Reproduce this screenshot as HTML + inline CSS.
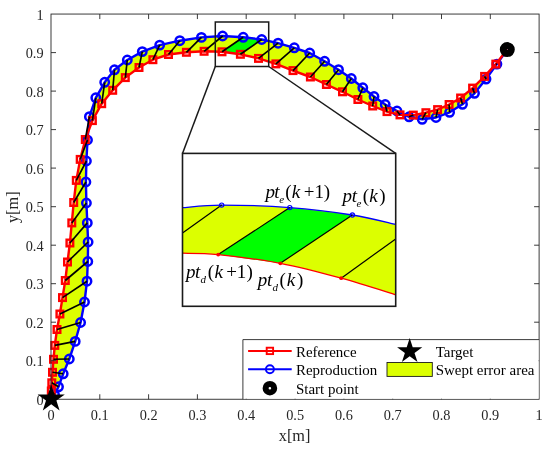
<!DOCTYPE html>
<html><head><meta charset="utf-8"><title>Swept error area</title>
<style>html,body{margin:0;padding:0;background:#fff}svg{display:block}text{font-family:"Liberation Serif",serif}</style></head><body>
<svg width="550" height="453" viewBox="0 0 550 453">
<rect width="550" height="453" fill="#fff"/>
<polygon points="51.0,399.3 51.3,391.0 51.8,382.8 52.5,372.3 53.5,359.3 54.8,345.4 57.0,329.5 59.9,314.0 62.5,297.6 65.3,280.5 67.5,262.0 69.9,243.0 71.8,222.9 73.7,202.5 76.3,180.4 80.2,159.4 85.3,139.5 92.4,120.6 101.7,103.7 112.7,90.3 125.3,77.6 139.0,67.5 152.9,59.7 168.5,54.5 186.4,52.3 204.1,51.3 222.0,51.8 240.4,54.3 258.5,58.4 275.9,63.9 293.0,70.6 310.4,77.0 326.4,84.5 342.5,91.8 357.9,99.5 372.7,106.0 387.0,111.6 400.0,114.9 413.3,115.1 425.9,112.7 437.6,109.6 449.1,104.5 460.6,98.0 472.6,88.1 484.6,76.4 495.8,64.1 507.3,49.6 507.3,49.6 496.9,64.1 486.0,79.1 474.5,93.3 462.5,104.3 449.6,112.3 436.0,117.5 422.2,119.3 409.1,116.8 397.0,111.0 385.2,104.5 374.0,96.5 362.8,87.8 351.3,78.5 338.5,69.7 324.6,61.3 309.7,53.0 294.3,47.8 278.1,43.2 261.7,39.5 243.2,37.3 222.6,36.0 201.4,37.4 179.8,40.7 159.7,45.1 142.3,51.6 127.3,60.0 114.5,69.8 104.7,82.3 95.8,97.8 89.4,116.7 87.5,140.0 86.4,161.0 85.9,182.0 86.4,203.0 87.3,222.9 88.1,242.0 87.8,261.5 87.0,281.2 84.5,302.0 80.6,322.5 75.2,341.4 69.3,359.0 63.2,373.8 58.5,386.8 54.5,394.5 51.0,399.3" fill="#dcff00"/>
<polygon points="222.0,51.8 240.4,54.3 261.7,39.5 243.2,37.3" fill="#00ff00"/>
<polyline points="51.0,399.3 54.5,394.5 58.5,386.8 63.2,373.8 69.3,359.0 75.2,341.4 80.6,322.5 84.5,302.0 87.0,281.2 87.8,261.5 88.1,242.0 87.3,222.9 86.4,203.0 85.9,182.0 86.4,161.0 87.5,140.0 89.4,116.7 95.8,97.8 104.7,82.3 114.5,69.8 127.3,60.0 142.3,51.6 159.7,45.1 179.8,40.7 201.4,37.4 222.6,36.0 243.2,37.3 261.7,39.5 278.1,43.2 294.3,47.8 309.7,53.0 324.6,61.3 338.5,69.7 351.3,78.5 362.8,87.8 374.0,96.5 385.2,104.5 397.0,111.0 409.1,116.8 422.2,119.3 436.0,117.5 449.6,112.3 462.5,104.3 474.5,93.3 486.0,79.1 496.9,64.1 507.3,49.6" fill="none" stroke="#0000ff" stroke-width="2.4" stroke-linejoin="round"/>
<g fill="none" stroke="#0000ff" stroke-width="2.5">
<circle cx="54.5" cy="394.5" r="4.2"/>
<circle cx="58.5" cy="386.8" r="4.2"/>
<circle cx="63.2" cy="373.8" r="4.2"/>
<circle cx="69.3" cy="359.0" r="4.2"/>
<circle cx="75.2" cy="341.4" r="4.2"/>
<circle cx="80.6" cy="322.5" r="4.2"/>
<circle cx="84.5" cy="302.0" r="4.2"/>
<circle cx="87.0" cy="281.2" r="4.2"/>
<circle cx="87.8" cy="261.5" r="4.2"/>
<circle cx="88.1" cy="242.0" r="4.2"/>
<circle cx="87.3" cy="222.9" r="4.2"/>
<circle cx="86.4" cy="203.0" r="4.2"/>
<circle cx="85.9" cy="182.0" r="4.2"/>
<circle cx="86.4" cy="161.0" r="4.2"/>
<circle cx="87.5" cy="140.0" r="4.2"/>
<circle cx="89.4" cy="116.7" r="4.2"/>
<circle cx="95.8" cy="97.8" r="4.2"/>
<circle cx="104.7" cy="82.3" r="4.2"/>
<circle cx="114.5" cy="69.8" r="4.2"/>
<circle cx="127.3" cy="60.0" r="4.2"/>
<circle cx="142.3" cy="51.6" r="4.2"/>
<circle cx="159.7" cy="45.1" r="4.2"/>
<circle cx="179.8" cy="40.7" r="4.2"/>
<circle cx="201.4" cy="37.4" r="4.2"/>
<circle cx="222.6" cy="36.0" r="4.2"/>
<circle cx="243.2" cy="37.3" r="4.2"/>
<circle cx="261.7" cy="39.5" r="4.2"/>
<circle cx="278.1" cy="43.2" r="4.2"/>
<circle cx="294.3" cy="47.8" r="4.2"/>
<circle cx="309.7" cy="53.0" r="4.2"/>
<circle cx="324.6" cy="61.3" r="4.2"/>
<circle cx="338.5" cy="69.7" r="4.2"/>
<circle cx="351.3" cy="78.5" r="4.2"/>
<circle cx="362.8" cy="87.8" r="4.2"/>
<circle cx="374.0" cy="96.5" r="4.2"/>
<circle cx="385.2" cy="104.5" r="4.2"/>
<circle cx="397.0" cy="111.0" r="4.2"/>
<circle cx="409.1" cy="116.8" r="4.2"/>
<circle cx="422.2" cy="119.3" r="4.2"/>
<circle cx="436.0" cy="117.5" r="4.2"/>
<circle cx="449.6" cy="112.3" r="4.2"/>
<circle cx="462.5" cy="104.3" r="4.2"/>
<circle cx="474.5" cy="93.3" r="4.2"/>
<circle cx="486.0" cy="79.1" r="4.2"/>
<circle cx="496.9" cy="64.1" r="4.2"/>
</g>
<polyline points="51.0,399.3 51.3,391.0 51.8,382.8 52.5,372.3 53.5,359.3 54.8,345.4 57.0,329.5 59.9,314.0 62.5,297.6 65.3,280.5 67.5,262.0 69.9,243.0 71.8,222.9 73.7,202.5 76.3,180.4 80.2,159.4 85.3,139.5 92.4,120.6 101.7,103.7 112.7,90.3 125.3,77.6 139.0,67.5 152.9,59.7 168.5,54.5 186.4,52.3 204.1,51.3 222.0,51.8 240.4,54.3 258.5,58.4 275.9,63.9 293.0,70.6 310.4,77.0 326.4,84.5 342.5,91.8 357.9,99.5 372.7,106.0 387.0,111.6 400.0,114.9 413.3,115.1 425.9,112.7 437.6,109.6 449.1,104.5 460.6,98.0 472.6,88.1 484.6,76.4 495.8,64.1 507.3,49.6" fill="none" stroke="#ff0000" stroke-width="2.4" stroke-linejoin="round"/>
<g fill="none" stroke="#ff0000" stroke-width="2.4">
<rect x="48.00" y="387.70" width="6.6" height="6.6"/>
<rect x="48.50" y="379.50" width="6.6" height="6.6"/>
<rect x="49.20" y="369.00" width="6.6" height="6.6"/>
<rect x="50.20" y="356.00" width="6.6" height="6.6"/>
<rect x="51.50" y="342.10" width="6.6" height="6.6"/>
<rect x="53.70" y="326.20" width="6.6" height="6.6"/>
<rect x="56.60" y="310.70" width="6.6" height="6.6"/>
<rect x="59.20" y="294.30" width="6.6" height="6.6"/>
<rect x="62.00" y="277.20" width="6.6" height="6.6"/>
<rect x="64.20" y="258.70" width="6.6" height="6.6"/>
<rect x="66.60" y="239.70" width="6.6" height="6.6"/>
<rect x="68.50" y="219.60" width="6.6" height="6.6"/>
<rect x="70.40" y="199.20" width="6.6" height="6.6"/>
<rect x="73.00" y="177.10" width="6.6" height="6.6"/>
<rect x="76.90" y="156.10" width="6.6" height="6.6"/>
<rect x="82.00" y="136.20" width="6.6" height="6.6"/>
<rect x="89.10" y="117.30" width="6.6" height="6.6"/>
<rect x="98.40" y="100.40" width="6.6" height="6.6"/>
<rect x="109.40" y="87.00" width="6.6" height="6.6"/>
<rect x="122.00" y="74.30" width="6.6" height="6.6"/>
<rect x="135.70" y="64.20" width="6.6" height="6.6"/>
<rect x="149.60" y="56.40" width="6.6" height="6.6"/>
<rect x="165.20" y="51.20" width="6.6" height="6.6"/>
<rect x="183.10" y="49.00" width="6.6" height="6.6"/>
<rect x="200.80" y="48.00" width="6.6" height="6.6"/>
<rect x="218.70" y="48.50" width="6.6" height="6.6"/>
<rect x="237.10" y="51.00" width="6.6" height="6.6"/>
<rect x="255.20" y="55.10" width="6.6" height="6.6"/>
<rect x="272.60" y="60.60" width="6.6" height="6.6"/>
<rect x="289.70" y="67.30" width="6.6" height="6.6"/>
<rect x="307.10" y="73.70" width="6.6" height="6.6"/>
<rect x="323.10" y="81.20" width="6.6" height="6.6"/>
<rect x="339.20" y="88.50" width="6.6" height="6.6"/>
<rect x="354.60" y="96.20" width="6.6" height="6.6"/>
<rect x="369.40" y="102.70" width="6.6" height="6.6"/>
<rect x="383.70" y="108.30" width="6.6" height="6.6"/>
<rect x="396.70" y="111.60" width="6.6" height="6.6"/>
<rect x="410.00" y="111.80" width="6.6" height="6.6"/>
<rect x="422.60" y="109.40" width="6.6" height="6.6"/>
<rect x="434.30" y="106.30" width="6.6" height="6.6"/>
<rect x="445.80" y="101.20" width="6.6" height="6.6"/>
<rect x="457.30" y="94.70" width="6.6" height="6.6"/>
<rect x="469.30" y="84.80" width="6.6" height="6.6"/>
<rect x="481.30" y="73.10" width="6.6" height="6.6"/>
<rect x="492.50" y="60.80" width="6.6" height="6.6"/>
</g>
<g stroke="#000" stroke-width="1.65">
<line x1="51.3" y1="391.0" x2="54.5" y2="394.5"/>
<line x1="51.8" y1="382.8" x2="58.5" y2="386.8"/>
<line x1="52.5" y1="372.3" x2="63.2" y2="373.8"/>
<line x1="53.5" y1="359.3" x2="69.3" y2="359.0"/>
<line x1="54.8" y1="345.4" x2="75.2" y2="341.4"/>
<line x1="57.0" y1="329.5" x2="80.6" y2="322.5"/>
<line x1="59.9" y1="314.0" x2="84.5" y2="302.0"/>
<line x1="62.5" y1="297.6" x2="87.0" y2="281.2"/>
<line x1="65.3" y1="280.5" x2="87.8" y2="261.5"/>
<line x1="67.5" y1="262.0" x2="88.1" y2="242.0"/>
<line x1="69.9" y1="243.0" x2="87.3" y2="222.9"/>
<line x1="71.8" y1="222.9" x2="86.4" y2="203.0"/>
<line x1="73.7" y1="202.5" x2="85.9" y2="182.0"/>
<line x1="76.3" y1="180.4" x2="86.4" y2="161.0"/>
<line x1="80.2" y1="159.4" x2="87.5" y2="140.0"/>
<line x1="85.3" y1="139.5" x2="89.4" y2="116.7"/>
<line x1="92.4" y1="120.6" x2="95.8" y2="97.8"/>
<line x1="101.7" y1="103.7" x2="104.7" y2="82.3"/>
<line x1="112.7" y1="90.3" x2="114.5" y2="69.8"/>
<line x1="125.3" y1="77.6" x2="127.3" y2="60.0"/>
<line x1="139.0" y1="67.5" x2="142.3" y2="51.6"/>
<line x1="152.9" y1="59.7" x2="159.7" y2="45.1"/>
<line x1="168.5" y1="54.5" x2="179.8" y2="40.7"/>
<line x1="186.4" y1="52.3" x2="201.4" y2="37.4"/>
<line x1="204.1" y1="51.3" x2="222.6" y2="36.0"/>
<line x1="222.0" y1="51.8" x2="243.2" y2="37.3"/>
<line x1="240.4" y1="54.3" x2="261.7" y2="39.5"/>
<line x1="258.5" y1="58.4" x2="278.1" y2="43.2"/>
<line x1="275.9" y1="63.9" x2="294.3" y2="47.8"/>
<line x1="293.0" y1="70.6" x2="309.7" y2="53.0"/>
<line x1="310.4" y1="77.0" x2="324.6" y2="61.3"/>
<line x1="326.4" y1="84.5" x2="338.5" y2="69.7"/>
<line x1="342.5" y1="91.8" x2="351.3" y2="78.5"/>
<line x1="357.9" y1="99.5" x2="362.8" y2="87.8"/>
<line x1="372.7" y1="106.0" x2="374.0" y2="96.5"/>
<line x1="387.0" y1="111.6" x2="385.2" y2="104.5"/>
<line x1="400.0" y1="114.9" x2="397.0" y2="111.0"/>
<line x1="413.3" y1="115.1" x2="409.1" y2="116.8"/>
<line x1="425.9" y1="112.7" x2="422.2" y2="119.3"/>
<line x1="437.6" y1="109.6" x2="436.0" y2="117.5"/>
<line x1="449.1" y1="104.5" x2="449.6" y2="112.3"/>
<line x1="460.6" y1="98.0" x2="462.5" y2="104.3"/>
<line x1="472.6" y1="88.1" x2="474.5" y2="93.3"/>
<line x1="484.6" y1="76.4" x2="486.0" y2="79.1"/>
<line x1="495.8" y1="64.1" x2="496.9" y2="64.1"/>
</g>
<rect x="51.0" y="14.05" width="488.1" height="385.2" fill="none" stroke="#262626" stroke-width="0.9"/>
<g stroke="#262626" stroke-width="0.9">
<line x1="99.8" y1="399.25" x2="99.8" y2="394.25"/>
<line x1="99.8" y1="14.05" x2="99.8" y2="19.05"/>
<line x1="51.0" y1="360.7" x2="56.0" y2="360.7"/>
<line x1="539.1" y1="360.7" x2="534.1" y2="360.7"/>
<line x1="148.6" y1="399.25" x2="148.6" y2="394.25"/>
<line x1="148.6" y1="14.05" x2="148.6" y2="19.05"/>
<line x1="51.0" y1="322.2" x2="56.0" y2="322.2"/>
<line x1="539.1" y1="322.2" x2="534.1" y2="322.2"/>
<line x1="197.4" y1="399.25" x2="197.4" y2="394.25"/>
<line x1="197.4" y1="14.05" x2="197.4" y2="19.05"/>
<line x1="51.0" y1="283.7" x2="56.0" y2="283.7"/>
<line x1="539.1" y1="283.7" x2="534.1" y2="283.7"/>
<line x1="246.2" y1="399.25" x2="246.2" y2="394.25"/>
<line x1="246.2" y1="14.05" x2="246.2" y2="19.05"/>
<line x1="51.0" y1="245.2" x2="56.0" y2="245.2"/>
<line x1="539.1" y1="245.2" x2="534.1" y2="245.2"/>
<line x1="295.1" y1="399.25" x2="295.1" y2="394.25"/>
<line x1="295.1" y1="14.05" x2="295.1" y2="19.05"/>
<line x1="51.0" y1="206.7" x2="56.0" y2="206.7"/>
<line x1="539.1" y1="206.7" x2="534.1" y2="206.7"/>
<line x1="343.9" y1="399.25" x2="343.9" y2="394.25"/>
<line x1="343.9" y1="14.05" x2="343.9" y2="19.05"/>
<line x1="51.0" y1="168.1" x2="56.0" y2="168.1"/>
<line x1="539.1" y1="168.1" x2="534.1" y2="168.1"/>
<line x1="392.7" y1="399.25" x2="392.7" y2="394.25"/>
<line x1="392.7" y1="14.05" x2="392.7" y2="19.05"/>
<line x1="51.0" y1="129.6" x2="56.0" y2="129.6"/>
<line x1="539.1" y1="129.6" x2="534.1" y2="129.6"/>
<line x1="441.5" y1="399.25" x2="441.5" y2="394.25"/>
<line x1="441.5" y1="14.05" x2="441.5" y2="19.05"/>
<line x1="51.0" y1="91.1" x2="56.0" y2="91.1"/>
<line x1="539.1" y1="91.1" x2="534.1" y2="91.1"/>
<line x1="490.3" y1="399.25" x2="490.3" y2="394.25"/>
<line x1="490.3" y1="14.05" x2="490.3" y2="19.05"/>
<line x1="51.0" y1="52.6" x2="56.0" y2="52.6"/>
<line x1="539.1" y1="52.6" x2="534.1" y2="52.6"/>
</g>
<g fill="#262626" font-size="14.3px">
<text x="51.0" y="420.4" text-anchor="middle">0</text>
<text x="43.6" y="404.9" text-anchor="end">0</text>
<text x="99.8" y="420.4" text-anchor="middle">0.1</text>
<text x="43.6" y="366.3" text-anchor="end">0.1</text>
<text x="148.6" y="420.4" text-anchor="middle">0.2</text>
<text x="43.6" y="327.8" text-anchor="end">0.2</text>
<text x="197.4" y="420.4" text-anchor="middle">0.3</text>
<text x="43.6" y="289.3" text-anchor="end">0.3</text>
<text x="246.2" y="420.4" text-anchor="middle">0.4</text>
<text x="43.6" y="250.8" text-anchor="end">0.4</text>
<text x="295.1" y="420.4" text-anchor="middle">0.5</text>
<text x="43.6" y="212.2" text-anchor="end">0.5</text>
<text x="343.9" y="420.4" text-anchor="middle">0.6</text>
<text x="43.6" y="173.7" text-anchor="end">0.6</text>
<text x="392.7" y="420.4" text-anchor="middle">0.7</text>
<text x="43.6" y="135.2" text-anchor="end">0.7</text>
<text x="441.5" y="420.4" text-anchor="middle">0.8</text>
<text x="43.6" y="96.7" text-anchor="end">0.8</text>
<text x="490.3" y="420.4" text-anchor="middle">0.9</text>
<text x="43.6" y="58.2" text-anchor="end">0.9</text>
<text x="539.1" y="420.4" text-anchor="middle">1</text>
<text x="43.6" y="19.7" text-anchor="end">1</text>
</g>
<text x="294.6" y="440.7" text-anchor="middle" font-size="16.3px" fill="#262626">x[m]</text>
<text transform="translate(18.2,207.2) rotate(-90)" text-anchor="middle" font-size="16.3px" fill="#262626">y[m]</text>
<circle cx="507.3" cy="49.6" r="4" fill="none" stroke="#000" stroke-width="7"/>
<polygon points="51.2,384.5 54.4,394.4 64.8,394.4 56.4,400.5 59.6,410.4 51.2,404.3 42.8,410.4 46.0,400.5 37.6,394.4 48.0,394.4" fill="#000"/>
<g fill="none" stroke="#1a1a1a" stroke-width="1.5">
<rect x="215.3" y="22" width="53.4" height="44.5"/>
<line x1="215.3" y1="66.5" x2="182.5" y2="153.4"/>
<line x1="268.7" y1="66.5" x2="395.7" y2="153.4"/>
</g>
<rect x="182.5" y="153.4" width="213.2" height="152.9" fill="#fff"/>
<path d="M182.5,207.7 C189.0,207.3 203.8,205.1 221.7,205.1 C239.6,205.1 268.0,205.9 289.8,207.6 C311.6,209.2 334.8,212.2 352.4,215.0 C370.0,217.8 388.5,222.9 395.7,224.5 L395.7,294.8 C386.6,292.0 360.4,283.4 341.2,278.2 C322.0,272.9 300.8,267.2 280.3,263.3 C259.8,259.4 234.5,256.3 218.2,254.6 C201.9,252.9 188.4,253.4 182.5,253.2 Z" fill="#dcff00"/>
<polygon points="218.2,254.6 280.3,263.3 352.4,215.0 289.8,207.6" fill="#00ff00"/>
<path d="M182.5,207.7 C189.0,207.3 203.8,205.1 221.7,205.1 C239.6,205.1 268.0,205.9 289.8,207.6 C311.6,209.2 334.8,212.2 352.4,215.0 C370.0,217.8 388.5,222.9 395.7,224.5" fill="none" stroke="#0000ff" stroke-width="1.3"/>
<path d="M182.5,253.2 C188.4,253.4 201.9,252.9 218.2,254.6 C234.5,256.3 259.8,259.4 280.3,263.3 C300.8,267.2 322.0,272.9 341.2,278.2 C360.4,283.4 386.6,292.0 395.7,294.8" fill="none" stroke="#ff0000" stroke-width="1.25"/>
<g stroke="#000" stroke-width="1.2">
<line x1="221.7" y1="205.1" x2="182.5" y2="233.1"/>
<line x1="218.2" y1="254.6" x2="289.8" y2="207.6"/>
<line x1="280.3" y1="263.3" x2="352.4" y2="215"/>
<line x1="341.2" y1="278.2" x2="395.7" y2="238.9"/>
</g>
<circle cx="221.7" cy="205.1" r="2.1" fill="none" stroke="#0000ff" stroke-width="1.2"/>
<circle cx="289.8" cy="207.6" r="2.1" fill="none" stroke="#0000ff" stroke-width="1.2"/>
<circle cx="352.4" cy="215" r="2.1" fill="none" stroke="#0000ff" stroke-width="1.2"/>
<circle cx="218.2" cy="254.6" r="1.9" fill="#ff0000"/>
<circle cx="280.3" cy="263.3" r="1.9" fill="#ff0000"/>
<circle cx="341.2" cy="278.2" r="1.9" fill="#ff0000"/>
<rect x="182.5" y="153.4" width="213.2" height="152.9" fill="none" stroke="#1a1a1a" stroke-width="1.6"/>
<g fill="#000" font-size="19px"><text x="265.5" y="198.3" font-style="italic">p</text><text x="274.2" y="198.3" font-style="italic">t</text><text x="279.2" y="203.3" font-style="italic" font-size="11px">e</text><text x="285.3" y="198.3">(</text><text x="291.7" y="198.3" font-style="italic">k</text><text x="303.8" y="198.3">+</text><text x="314.4" y="198.3">1</text><text x="323.7" y="198.3">)</text></g>
<g fill="#000" font-size="19px"><text x="342.6" y="201.5" font-style="italic">p</text><text x="351.7" y="201.5" font-style="italic">t</text><text x="356.5" y="206.5" font-style="italic" font-size="11px">e</text><text x="362.7" y="201.5">(</text><text x="369.2" y="201.5" font-style="italic">k</text><text x="379.2" y="201.5">)</text></g>
<g fill="#000" font-size="19px"><text x="185.9" y="277.5" font-style="italic">p</text><text x="194.9" y="277.5" font-style="italic">t</text><text x="200.4" y="282.5" font-style="italic" font-size="11px">d</text><text x="207.7" y="277.5">(</text><text x="214.5" y="277.5" font-style="italic">k</text><text x="226.2" y="277.5">+</text><text x="236.8" y="277.5">1</text><text x="246.4" y="277.5">)</text></g>
<g fill="#000" font-size="19px"><text x="257.8" y="286.1" font-style="italic">p</text><text x="267.0" y="286.1" font-style="italic">t</text><text x="272.4" y="291.1" font-style="italic" font-size="11px">d</text><text x="279.5" y="286.1">(</text><text x="286.8" y="286.1" font-style="italic">k</text><text x="296.9" y="286.1">)</text></g>
<rect x="242.9" y="339.6" width="295.7" height="59.1" fill="#fff"/>
<polyline points="242.9,399.25 242.9,339.6 539.1,339.6" fill="none" stroke="#262626" stroke-width="0.9"/>
<line x1="248.1" y1="350.9" x2="291.7" y2="350.9" stroke="#ff0000" stroke-width="2"/>
<rect x="266.7" y="347.7" width="6.4" height="6.4" fill="none" stroke="#ff0000" stroke-width="1.9"/>
<line x1="248.1" y1="369.3" x2="291.7" y2="369.3" stroke="#0000ff" stroke-width="2"/>
<circle cx="269.9" cy="369.3" r="4" fill="none" stroke="#0000ff" stroke-width="1.9"/>
<circle cx="269.9" cy="388.2" r="4.3" fill="#fff" stroke="#000" stroke-width="6"/>
<polygon points="409.7,338.1 412.7,347.2 422.3,347.2 414.5,352.9 417.5,362.0 409.7,356.3 401.9,362.0 404.9,352.9 397.1,347.2 406.7,347.2" fill="#000"/>
<rect x="387.0" y="362.5" width="45.3" height="13.9" fill="#dcff00" stroke="#1a1a1a" stroke-width="0.9"/>
<g fill="#000" font-size="14.95px">
<text x="296.0" y="356.5">Reference</text>
<text x="296.0" y="375.1">Reproduction</text>
<text x="296.0" y="393.8">Start point</text>
<text x="435.7" y="356.5">Target</text>
<text x="435.7" y="375.1">Swept error area</text>
</g>
</svg></body></html>
